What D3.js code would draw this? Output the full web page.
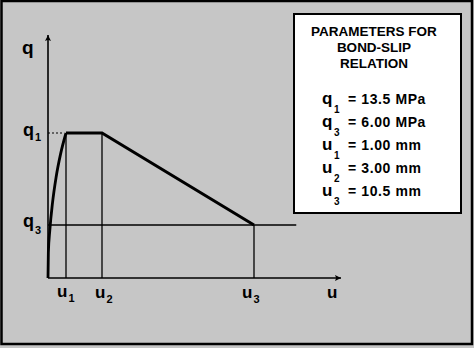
<!DOCTYPE html>
<html>
<head>
<meta charset="utf-8">
<script src="https://cdn.jsdelivr.net/npm/d3@7"></script>
<style>
  html, body { margin: 0; padding: 0; background: #c6c6c6; }
  svg { display: block; }
  text { font-family: "Liberation Sans", Arial, Helvetica, sans-serif; font-weight: bold; fill: #000; }
</style>
</head>
<body>
<svg id="chart" width="474" height="348"></svg>
<script>
// ---- data ----
const slipKeys = [0, 1.0, 3.0, 10.5, 14.0];     // u: origin, u1, u2, u3, axis end (mm, schematic)
const stressKeys = [0, 6.0, 13.5, 19.5];         // q: origin, q3, q1, axis end (MPa, schematic)
const q1 = 13.5, q3 = 6.0, u1 = 1.0, u2 = 3.0, u3 = 10.5;
const q3LineEnd = 12.2;                          // extent of q3 reference line (u units)
// ascending branch
const riseU = [0, 0.02, 0.1, 0.25, 0.45, 0.7, 1.0];
const riseQ = [0, 2.9, 5.4, 7.8, 9.9, 11.8, 13.5];
// plateau + softening branch
const softU = [1.0, 3.0, 10.5];
const softQ = [13.5, 13.5, 6.0];
const titleLines = ["PARAMETERS FOR", "BOND-SLIP", "RELATION"];
const paramSymbols = ["q", "q", "u", "u", "u"];
const paramSubs = ["1", "3", "1", "2", "3"];
const paramValues = ["= 13.5 MPa", "= 6.00 MPa", "= 1.00 mm", "= 3.00 mm", "= 10.5 mm"];

// ---- scales (schematic, piecewise linear as in the original sketch) ----
const x = d3.scaleLinear().domain(slipKeys).range([48, 66, 102, 254, 341]);
const y = d3.scaleLinear().domain(stressKeys).range([278, 225, 133, 35]);

const svg = d3.select("#chart");
svg.append("rect").attr("x", 0).attr("y", 0).attr("width", 474).attr("height", 348).attr("fill", "#c6c6c6");
svg.append("rect").attr("x", 1.5).attr("y", 1).attr("width", 470.5).attr("height", 343)
  .attr("fill", "none").attr("stroke", "#000").attr("stroke-width", 2.5);

const defs = svg.append("defs");
defs.append("marker").attr("id", "arrow").attr("viewBox", "0 0 10 10")
  .attr("refX", 10).attr("refY", 5).attr("markerWidth", 10).attr("markerHeight", 6)
  .attr("markerUnits", "userSpaceOnUse").attr("orient", "auto")
  .append("path").attr("d", "M0,0 L10,5 L0,10 L2,5 Z").attr("fill", "#000");

const g = svg.append("g");
// axes
g.append("line").attr("x1", x(0)).attr("y1", y(0)).attr("x2", x(0)).attr("y2", y(stressKeys[3]))
  .attr("stroke", "#000").attr("stroke-width", 1.6).attr("marker-end", "url(#arrow)");
g.append("line").attr("x1", x(0)).attr("y1", y(0)).attr("x2", x(slipKeys[4])).attr("y2", y(0))
  .attr("stroke", "#000").attr("stroke-width", 1.6).attr("marker-end", "url(#arrow)");

// reference lines
g.append("line").attr("x1", x(0)).attr("x2", x(q3LineEnd)).attr("y1", y(q3)).attr("y2", y(q3))
  .attr("stroke", "#000").attr("stroke-width", 1.6);
[u1, u2].forEach(u => {
  g.append("line").attr("x1", x(u)).attr("x2", x(u)).attr("y1", y(q1)).attr("y2", y(0))
    .attr("stroke", "#000").attr("stroke-width", 1.3);
});
g.append("line").attr("x1", x(u3)).attr("x2", x(u3)).attr("y1", y(q3)).attr("y2", y(0))
  .attr("stroke", "#000").attr("stroke-width", 1.3);
g.append("line").attr("x1", x(0)).attr("x2", x(0.85)).attr("y1", y(q1)).attr("y2", y(q1))
  .attr("stroke", "#000").attr("stroke-width", 1).attr("stroke-dasharray", "2,2");

// curve
const rise = riseU.map((u, i) => [u, riseQ[i]]);
const soft = softU.map((u, i) => [u, softQ[i]]);
g.append("path").datum(rise)
  .attr("d", d3.line().x(d => x(d[0])).y(d => y(d[1])).curve(d3.curveMonotoneX))
  .attr("fill", "none").attr("stroke", "#000").attr("stroke-width", 2.8);
g.append("path").datum(soft)
  .attr("d", d3.line().x(d => x(d[0])).y(d => y(d[1])))
  .attr("fill", "none").attr("stroke", "#000").attr("stroke-width", 3).attr("stroke-linejoin", "miter");

// axis labels
function subLabel(px, py, main, sub, size, subSize, dx, dy) {
  const t = g.append("text").attr("x", px).attr("y", py).style("font-size", size + "px");
  t.append("tspan").text(main);
  if (sub) t.append("tspan").attr("dx", dx).attr("dy", dy).style("font-size", subSize + "px").text(sub);
}
subLabel(x(0) - 26, y(stressKeys[3]) + 19, "q", null, 19);
subLabel(x(0) - 25, y(q1) + 3, "q", "1", 18, 11, 1, 5);
subLabel(x(0) - 25, y(q3) + 2, "q", "3", 18, 11, 1, 7);
subLabel(x(u1) - 9, y(0) + 19, "u", "1", 17, 11, 1, 5);
subLabel(x(u2) - 7, y(0) + 20, "u", "2", 17, 11, 1, 5);
subLabel(x(u3) - 12, y(0) + 20, "u", "3", 17, 11, 1, 5);
subLabel(x(slipKeys[4]) - 14, y(0) + 20, "u", null, 17);

// legend box
const lg = svg.append("g");
lg.append("rect").attr("x", 294).attr("y", 14).attr("width", 167).attr("height", 199)
  .attr("fill", "#fff").attr("stroke", "#000").attr("stroke-width", 2);
lg.selectAll("text.title").data(titleLines).join("text").attr("class", "title")
  .attr("x", 374).attr("y", (d, i) => 36 + i * 16).attr("text-anchor", "middle")
  .style("font-size", "13.5px").text(d => d);
paramValues.forEach((v, i) => {
  const by = 104 + i * 23;
  lg.append("text").attr("x", 322).attr("y", by).style("font-size", "17px").text(paramSymbols[i]);
  lg.append("text").attr("x", 334).attr("y", by + 9).style("font-size", "10px").text(paramSubs[i]);
  lg.append("text").attr("x", 348).attr("y", by).style("font-size", "14px")
    .style("letter-spacing", "0.6px").text(v);
});
</script>
</body>
</html>
